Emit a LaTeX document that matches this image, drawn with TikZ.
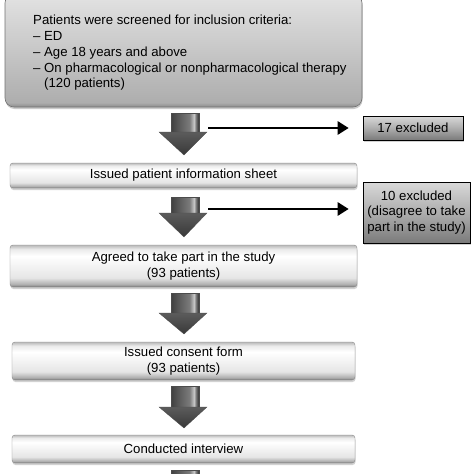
\documentclass[tikz,border=0pt]{standalone}
\usepackage{fontspec}
\setmainfont{Liberation Sans}
\usetikzlibrary{shadows,arrows.meta}
\pgfdeclareverticalshading{bigbox}{100bp}{color(0bp)=(black!45);color(25bp)=(black!45);color(27bp)=(black!32);color(50bp)=(black!22);color(73bp)=(black!12);color(75bp)=(black!22);color(100bp)=(black!22)}
\pgfdeclareverticalshading{cylbox}{100bp}{color(0bp)=(black!55);color(25bp)=(black!55);color(28bp)=(black!32);color(36bp)=(black!10);color(62bp)=(white);color(70bp)=(black!8);color(75bp)=(black!28);color(100bp)=(black!28)}
\pgfdeclareverticalshading{exbox}{100bp}{color(0bp)=(black!52);color(25bp)=(black!52);color(50bp)=(black!32);color(75bp)=(black!15);color(100bp)=(black!15)}
\pgfdeclarehorizontalshading{shaftsh}{100bp}{color(0bp)=(black!75);color(25bp)=(black!75);color(40bp)=(black!64);color(58bp)=(black!52);color(66bp)=(black!22);color(70bp)=(black!55);color(75bp)=(black!82);color(100bp)=(black!82)}
\pgfdeclareverticalshading{headsh}{100bp}{color(0bp)=(black!78);color(25bp)=(black!78);color(75bp)=(black!64);color(100bp)=(black!64)}
\tikzset{
  txt/.style={font=\fontsize{13.2}{15.8}\selectfont},
  bigstyle/.style={rectangle,rounded corners=9pt,shading=bigbox,draw=black!55,line width=0.6pt,
    drop shadow={shadow xshift=0.5pt,shadow yshift=-2pt,fill=black!40}},
  cyl/.style={txt,rectangle,rounded corners=3pt,shading=cylbox,draw=black!45,line width=0.4pt,
    drop shadow={shadow xshift=0.5pt,shadow yshift=-2pt,fill=black!35},align=center},
  exstyle/.style={txt,rectangle,shading=exbox,draw=black,line width=0.6pt,
    drop shadow={shadow xshift=1pt,shadow yshift=-1.5pt,fill=black!35},align=center,inner sep=0pt},
  linkarrow/.style={-{Triangle[length=11pt,width=13pt]},line width=2.8pt,black},
}
% block arrow: #1 = name, #2 = shaft top y, #3 = head start y, #4 = tip y
\newcommand{\myblockarrow}[4]{%
  \shade[shading=shaftsh,draw=black!70,line width=0.3pt] (171,#2) rectangle (199,#3);
  \shade[shading=headsh,draw=black!70,line width=0.3pt] (159,#3) -- (207,#3) -- (184,#4) -- cycle;
  \coordinate (#1) at (184,#2);
}
\begin{document}
\begin{tikzpicture}[x=1pt,y=-1pt]
\useasboundingbox (0,0) rectangle (474,474);
\fill[white] (0,0) rectangle (474,474);
\node[bigstyle,minimum width=357pt,minimum height=113pt] (b1) at (183.5,50.5) {};
\node[txt,anchor=north west,align=left,inner sep=0pt] (t1) at (33,15)
 {Patients were screened for inclusion criteria:\\
 -- ED\\
 -- Age 18 years and above\\
 -- On pharmacological or nonpharmacological therapy\\
 \hphantom{-- }(120 patients)};
\node[cyl,minimum width=347pt,minimum height=25pt] (b2) at (183.5,175.5) {Issued patient information sheet};
\node[cyl,minimum width=347pt,minimum height=42pt] (b3) at (183.5,266) {Agreed to take part in the study\\(93 patients)};
\node[cyl,minimum width=343pt,minimum height=38pt] (b4) at (183.5,361) {Issued consent form\\(93 patients)};
\node[cyl,minimum width=343pt,minimum height=28pt] (b5) at (183.5,449) {Conducted interview};
\node[exstyle,minimum width=100pt,minimum height=24pt] (e1) at (413,128) {17 excluded};
\node[exstyle,minimum width=107pt,minimum height=61pt] (e2) at (416.5,212.5) {10 excluded\\(disagree to take\\part in the study)};
\myblockarrow{a1}{113}{132}{155}
\myblockarrow{a2}{197}{213}{237}
\myblockarrow{a3}{293}{313}{334}
\myblockarrow{a4}{386}{407}{428}
\myblockarrow{a5}{470}{490}{510}
\coordinate (s1) at (208,128);
\coordinate (s2) at (208,209);
\draw[linkarrow,shorten >=14pt] (s1) -- (s1 -| e1.west);
\draw[linkarrow,shorten >=14pt] (s2) -- (s2 -| e2.west);
\end{tikzpicture}
\end{document}
